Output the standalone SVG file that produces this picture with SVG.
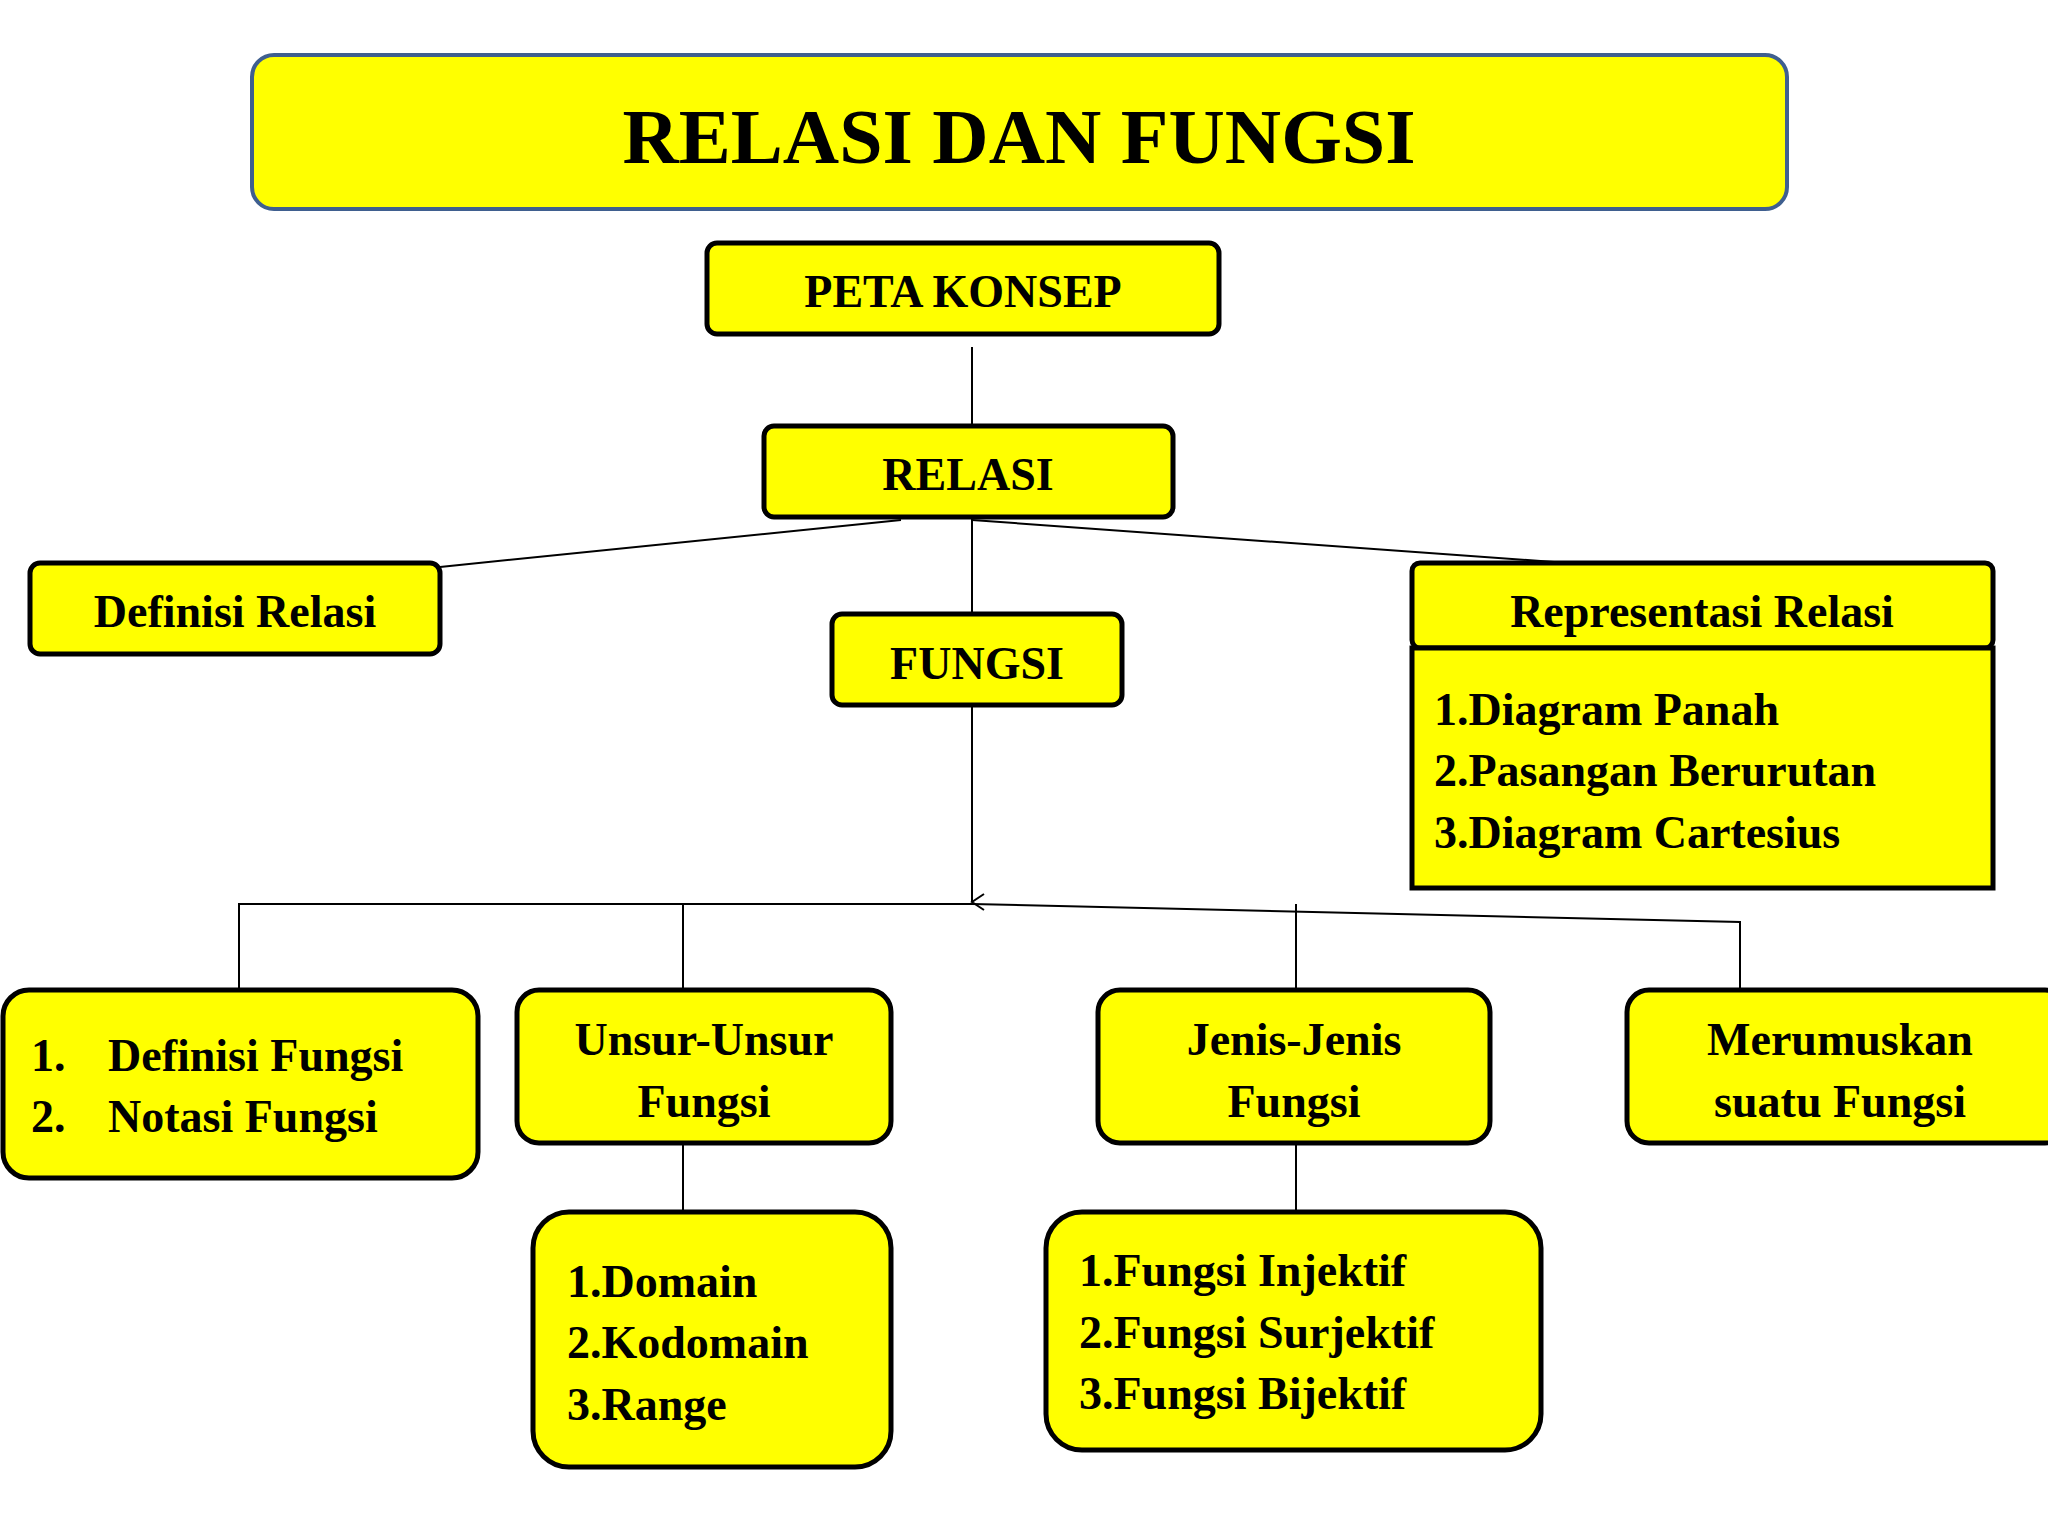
<svg xmlns="http://www.w3.org/2000/svg" width="2048" height="1536" viewBox="0 0 2048 1536">
<defs>
<style>
.b{fill:#ffff00;stroke:#000;stroke-width:5}
.t{font-family:"Liberation Serif",serif;font-weight:bold;font-size:46px;fill:#000}
.c{text-anchor:middle}
.l{stroke:#000;stroke-width:2;fill:none}
</style>
<marker id="a" markerWidth="20" markerHeight="20" refX="10" refY="16" orient="auto" markerUnits="userSpaceOnUse"><path d="M2,4 L10,16 L18,4" fill="none" stroke="#000" stroke-width="2"/></marker>
</defs>
<rect width="2048" height="1536" fill="#fff"/>
<g id="connectors">
<line class="l" x1="972" y1="347" x2="972" y2="426"/>
<line class="l" x1="901" y1="520" x2="440" y2="567"/>
<line class="l" x1="972" y1="520" x2="1554" y2="562"/>
<line class="l" x1="972" y1="517" x2="972" y2="614"/>
<line class="l" x1="972" y1="679" x2="972" y2="902" marker-end="url(#a)"/>
<polyline class="l" points="239,989 239,904 972,904 1740,922 1740,989"/>
<line class="l" x1="683" y1="904" x2="683" y2="989"/>
<line class="l" x1="1296" y1="904" x2="1296" y2="989"/>
<line class="l" x1="683" y1="1143" x2="683" y2="1212"/>
<line class="l" x1="1296" y1="1143" x2="1296" y2="1212"/>
</g>
<g id="title"><rect x="252" y="55" width="1535" height="154" rx="22" fill="#ffff00" stroke="#3f5f8f" stroke-width="4"/><text class="t c" x="1019" y="163" style="font-size:78px">RELASI DAN FUNGSI</text></g>
<g id="peta"><rect class="b" x="707" y="243" width="512" height="91" rx="10"/><text class="t c" x="963" y="307">PETA KONSEP</text></g>
<g id="relasi"><rect class="b" x="764" y="426" width="409" height="91" rx="10"/><text class="t c" x="968" y="490">RELASI</text></g>
<g id="defrelasi"><rect class="b" x="30" y="563" width="410" height="91" rx="10"/><text class="t c" x="235" y="627">Definisi Relasi</text></g>
<g id="fungsi"><rect class="b" x="832" y="614" width="290" height="91" rx="10"/><text class="t c" x="977" y="679">FUNGSI</text></g>
<g id="representasi"><rect class="b" x="1412" y="563" width="581" height="85" rx="8"/><rect class="b" x="1412" y="648" width="581" height="240"/><text class="t c" x="1702" y="627">Representasi Relasi</text>
<text class="t" x="1434" y="725">1.Diagram Panah</text><text class="t" x="1434" y="786">2.Pasangan Berurutan</text><text class="t" x="1434" y="848">3.Diagram Cartesius</text></g>
<g id="deffungsi"><rect class="b" x="3" y="990" width="475" height="188" rx="26"/><text class="t" x="31" y="1071">1.</text><text class="t" x="108" y="1071">Definisi Fungsi</text><text class="t" x="31" y="1132">2.</text><text class="t" x="108" y="1132">Notasi Fungsi</text></g>
<g id="unsur"><rect class="b" x="517" y="990" width="374" height="153" rx="22"/><text class="t c" x="704" y="1055">Unsur-Unsur</text><text class="t c" x="704" y="1117">Fungsi</text></g>
<g id="jenis"><rect class="b" x="1098" y="990" width="392" height="153" rx="22"/><text class="t c" x="1294" y="1055">Jenis-Jenis</text><text class="t c" x="1294" y="1117">Fungsi</text></g>
<g id="merumuskan"><rect class="b" x="1627" y="990" width="440" height="153" rx="22"/><text class="t c" x="1840" y="1055">Merumuskan</text><text class="t c" x="1840" y="1117">suatu Fungsi</text></g>
<g id="domain"><rect class="b" x="533" y="1212" width="358" height="255" rx="36"/><text class="t" x="567" y="1297">1.Domain</text><text class="t" x="567" y="1358">2.Kodomain</text><text class="t" x="567" y="1420">3.Range</text></g>
<g id="jenislist"><rect class="b" x="1046" y="1212" width="495" height="238" rx="36"/><text class="t" x="1079" y="1286">1.Fungsi Injektif</text><text class="t" x="1079" y="1348">2.Fungsi Surjektif</text><text class="t" x="1079" y="1409">3.Fungsi Bijektif</text></g>
</svg>
